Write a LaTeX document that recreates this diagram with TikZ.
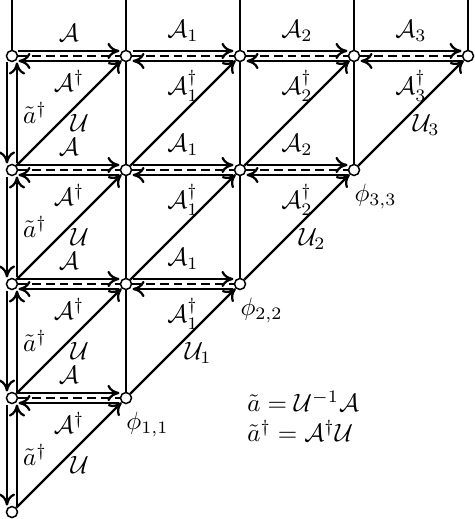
\documentclass[tikz,border=0pt]{standalone}
\usepackage{amsmath}
\usetikzlibrary{positioning,calc,arrows.meta,backgrounds}

\begin{document}
\begin{tikzpicture}[x=1.6cm, y=1.6cm,
  site/.style={circle, draw, fill=white, line width=0.6pt, inner sep=0pt, minimum size=4.4pt},
  link/.style={line width=0.9pt},
  tip/.style={-{To[length=4.8pt,width=6.5pt]}},
  hop/.style={link, tip, shorten >=2.6pt, shorten <=2.6pt},
  dash link/.style={link, dash pattern=on 3.5pt off 2pt},
  ulab/.style={anchor=north west, inner sep=0.5pt},
  plab/.style={anchor=north west, inner sep=0pt}
]
\useasboundingbox (-0.105,-4.061) rectangle (4.053,0.491);
\foreach \j in {0,...,4}{
  \pgfmathtruncatemacro\m{4-\j}
  \foreach \i in {0,...,\m} \node[site] (n\i\j) at (\i,-\j) {};
}
\foreach \i in {0,...,4} \coordinate (t\i) at (\i,0.491);
\begin{scope}[on background layer]
\draw[link] (t0) -- (n00.center);
\foreach \i in {1,...,4}{
  \pgfmathtruncatemacro\k{4-\i}
  \draw[link] (t\i) -- (n\i\k.center);
}
\foreach \j in {0,...,3}{
  \pgfmathtruncatemacro\m{3-\j}
  \pgfmathtruncatemacro\jj{\j+1}
  \draw[hop] ([xshift=-2pt]n0\j.center) -- ([xshift=-2pt]n0\jj.center);
  \draw[hop] ([xshift=2pt]n0\jj.center) -- node[right, inner sep=2pt]{$\tilde a^\dagger$} ([xshift=2pt]n0\j.center);
  \foreach \i in {0,...,\m}{
    \pgfmathtruncatemacro\ii{\i+1}
    \ifnum\i=0 \def\idx{}\else\edef\idx{_{\i}}\fi
    \draw[hop] ([yshift=2pt]n\i\j.center) -- node[above]{$\mathcal{A}\idx$} ([yshift=2pt]n\ii\j.center);
    \draw[dash link] (n\i\j) -- (n\ii\j);
    \draw[hop] ([yshift=-2pt]n\ii\j.center) -- node[below]{$\mathcal{A}^\dagger\idx$} ([yshift=-2pt]n\i\j.center);
    \draw[link, tip] (n\i\jj) -- (n\ii\j);
    \ifnum\i=0 \path (n\i\jj) -- node[ulab]{$\mathcal{U}$} (n\ii\j);\fi
    \ifnum\i>0 \ifnum\i=\m \path (n\i\jj) -- node[ulab]{$\mathcal{U}_{\i}$} (n\ii\j);\fi\fi
  }
}
\end{scope}
\node[plab] (p33) at ([yshift=-5.5pt]n31.center) {$\phi_{3,3}$};
\node[plab] (p22) at ([yshift=-5.5pt]n22.center) {$\phi_{2,2}$};
\node[plab] (p11) at ([yshift=-5.5pt]n13.center) {$\phi_{1,1}$};
\node[anchor=west, align=left, inner sep=0pt] (eq) at (2.06,-3.16) {$\tilde a=\mathcal{U}^{-1}\mathcal{A}$\\$\tilde a^\dagger=\mathcal{A}^\dagger\mathcal{U}$};
\end{tikzpicture}
\end{document}
